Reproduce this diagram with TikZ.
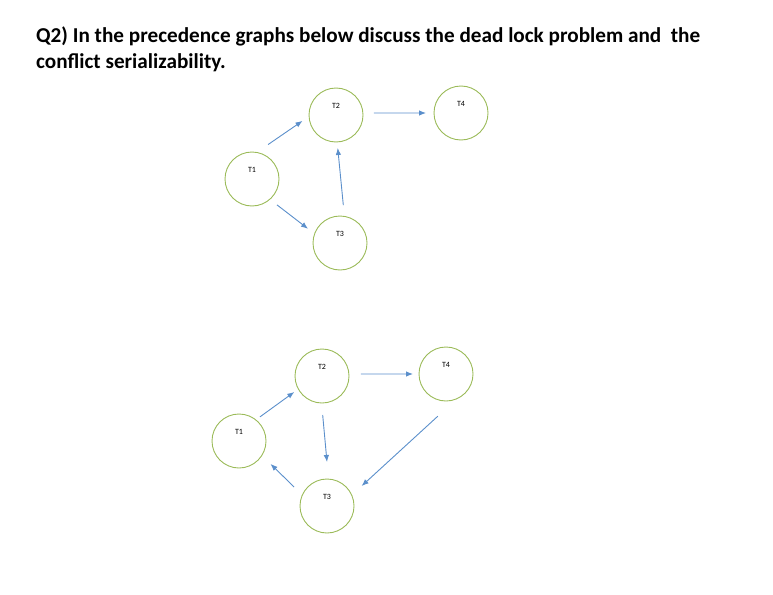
\documentclass[tikz,border=0pt]{standalone}
\usepackage{fontspec}
\setmainfont{Carlito}
\usetikzlibrary{arrows.meta,calc}
\definecolor{ringgreen}{HTML}{9BBB59}
\definecolor{arrowblue}{HTML}{5B8FCB}
\tikzset{
  txn/.style={circle, draw=ringgreen, line width=0.9pt, minimum size=54pt,
    inner sep=0pt, label={[font=\fontsize{8}{9}\selectfont, yshift=9pt]center:#1}},
  flow/.style={draw=arrowblue, line width=0.9pt, -{Latex[length=7pt,width=5.5pt]}}
}
\begin{document}
\begin{tikzpicture}[x=1pt,y=-1pt]
  \useasboundingbox (0,0) rectangle (773,594);
  \node (Q) at (36,27) [anchor=north west, align=left, inner sep=0pt,
        font=\fontsize{21.2}{26}\selectfont\bfseries]
        {Q2) In the precedence graphs below discuss the dead lock problem and~ the\\
         conflict serializability.};
  % first graph
  \node (A1) at (252,179) [txn=T1] {};
  \node (A2) at (336,115) [txn=T2] {};
  \node (A3) at (340,243) [txn=T3] {};
  \node (A4) at (461,113) [txn=T4] {};
  \draw [flow] ($(A1)+(-65:38)$) -- ($(A2)+(-190:34)$);
  \draw [flow] ($(A2)+(-3:38)$) -- ($(A4)+(-180:35)$);
  \draw [flow] ($(A3)+(-85:38)$) -- ($(A2)+(-273:33)$);
  \draw [flow] ($(A1)+(46:36)$) -- ($(A3)+(-156:35)$);
  % second graph
  \node (B1) at (239,441) [txn=T1] {};
  \node (B2) at (322,376) [txn=T2] {};
  \node (B3) at (327,506) [txn=T3] {};
  \node (B4) at (446,374) [txn=T4] {};
  \draw [flow] ($(B1)+(-49:32)$) -- ($(B2)+(-210:32)$);
  \draw [flow] ($(B2)+(-3:39)$) -- ($(B4)+(-180:33)$);
  \draw [flow] ($(B2)+(-271:39)$) -- ($(B3)+(-90:44)$);
  \draw [flow] ($(B4)+(-259:43)$) -- ($(B3)+(-30:40)$);
  \draw [flow] ($(B3)+(-150:38)$) -- ($(B1)+(36:39)$);
\end{tikzpicture}
\end{document}
